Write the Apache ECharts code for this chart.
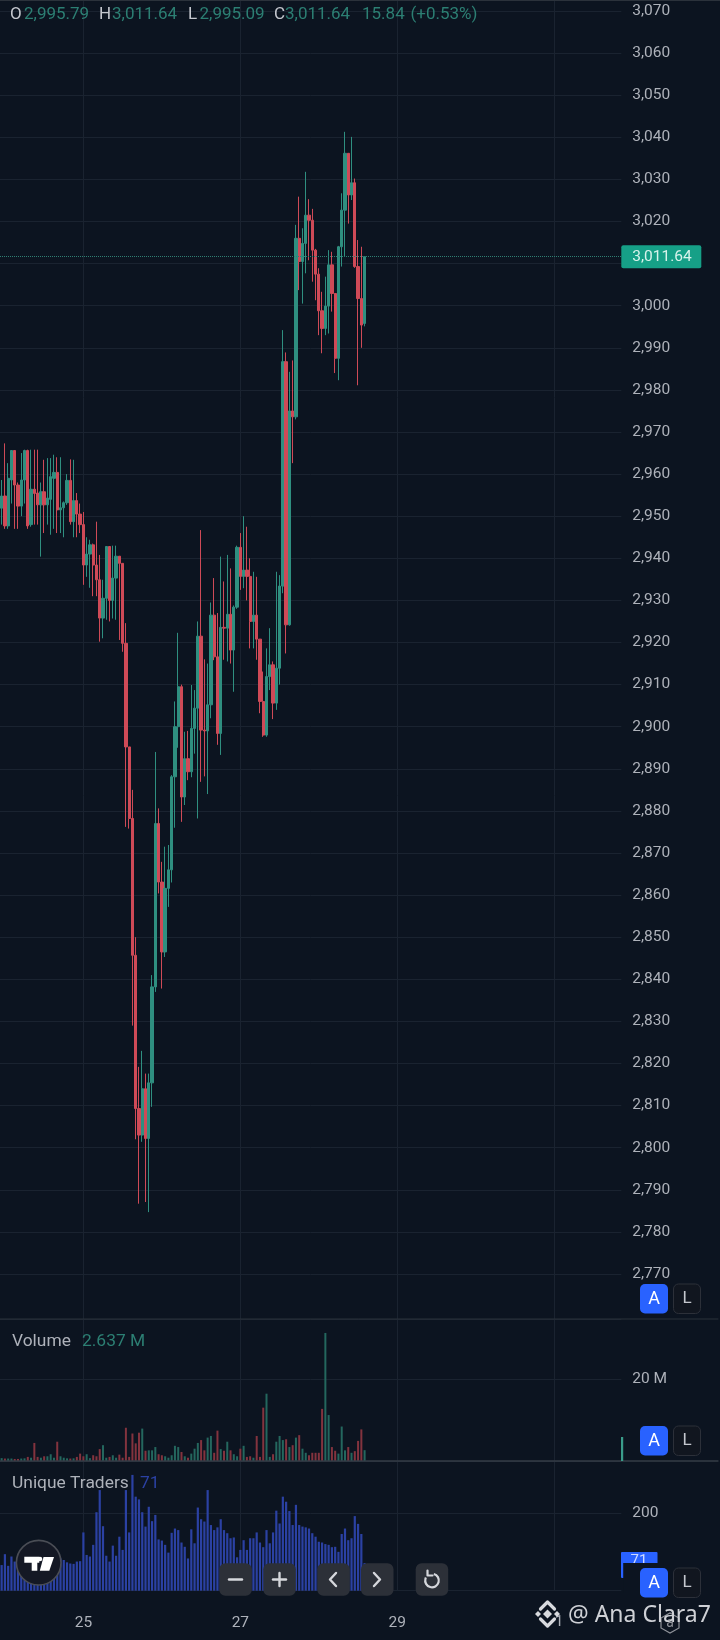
<!DOCTYPE html>
<html><head><meta charset="utf-8">
<style>html,body{margin:0;padding:0;background:#0c1420}#c{width:720px;height:1640px}</style>
<script src="https://cdn.jsdelivr.net/npm/echarts@6/dist/echarts.min.js"></script>
</head><body><div id="c"></div>
<script>
// candle values, one hour per candle
const opens=[2951.9,2954.8,2947.7,2958.6,2965.6,2957.4,2952.4,2958.6,2965.6,2948,2956.4,2955.5,2952.7,2955.8,2952.7,2954,2959,2960.4,2951.5,2952,2953.2,2958.5,2948.7,2953.7,2950.5,2948,2938.4,2941,2943.2,2938.4,2934.9,2925.8,2930.5,2942.8,2930,2935.3,2940.5,2938.8,2919.8,2895.2,2878.2,2845.7,2809.3,2803,2814,2802.2,2815.4,2838.2,2877,2863.1,2846.5,2861.6,2866,2888.1,2900,2909.5,2883.3,2892.4,2889.3,2899.6,2904.4,2921.5,2899.2,2899,2905.2,2926.5,2916.6,2898.4,2923.6,2923.4,2926.7,2918.2,2928.4,2942.6,2935.7,2937.2,2935.7,2925,2926.5,2920.8,2906,2898,2911.9,2914.7,2905.6,2913.9,2933.4,2986.7,2924.2,2975,2973.6,3016,3010.5,3014.8,3021.5,3020.3,3013.2,3007.5,2998.8,2994.6,2999.9,3009.7,3002.9,2987.5,3014,3022.7,3036.2,3026.3,3029.2,3009.3,3001.7,2995.79];
const closes=[2954.8,2947.7,2959,2965.6,2957.4,2952.4,2958.6,2965.6,2947.7,2956.4,2955.4,2952.7,2955.8,2952.7,2954.3,2959.4,2960.4,2951.5,2952,2953.2,2958.5,2948.7,2953.7,2950.5,2948,2938.4,2941,2943.2,2938.4,2934.9,2925.8,2930.5,2942.8,2930,2935.3,2940.5,2938.8,2919.8,2895.2,2878.2,2845.7,2809.3,2803,2814,2802.2,2815.4,2838.2,2877,2863.1,2846.5,2861.6,2866,2888.1,2900,2909.5,2883.3,2892.4,2889.3,2899.6,2904.4,2921.5,2899.2,2899,2905.2,2926.5,2916.6,2898.4,2923.6,2923.4,2926.7,2918.2,2928.4,2942.6,2935.7,2937.2,2935.7,2925,2926.5,2920.8,2906,2898,2911.9,2914.7,2905.6,2913.9,2933.4,2986.7,2924.2,2975,2973.6,3016,3010.5,3014.8,3021.5,3020.3,3013.2,3007.5,2998.8,2994.6,2999.9,3009.7,3002.9,2987.5,3014,3022.7,3036.2,3026.3,3029.2,3009.3,3001.7,2995.4,3011.64];
const lows=[2948,2947,2947,2953,2947,2947,2950,2953,2947,2947.5,2948,2948,2940.4,2946,2948,2945.6,2947,2946,2946,2945,2952.7,2948,2945,2945,2946,2933.7,2935.6,2933,2931,2931,2920.2,2921,2925.4,2925,2925.7,2925.4,2920.6,2917.8,2876.2,2875.8,2829,2802,2786.7,2801.4,2787.1,2784.7,2809.7,2837,2860.4,2837.8,2845.3,2857.2,2863,2876,2895,2877.4,2881.4,2887.3,2888,2893.6,2878.2,2886.9,2888.2,2884,2902,2915.8,2895.7,2893.3,2915.9,2915.5,2915,2908.3,2928,2932.5,2932.9,2930,2918.6,2918.6,2915.9,2903.2,2897.6,2897.6,2908.7,2901.8,2904,2910,2931.7,2917.4,2924,2962.6,2973,3003.7,3000.5,3007.7,3010.8,3005.7,3001.3,2993,2988.7,2993,2993.4,2998.6,2984,2982.3,3009.3,3011.6,3019.5,3025.1,3009,2981.1,2990,2995.09];
const highs=[2958.6,2967.3,2962.6,2965.6,2965.6,2958,2965,2965.8,2965.8,2965.8,2965.8,2965.8,2958,2963.4,2963.8,2963.8,2964.6,2964,2964,2953.5,2960,2963.5,2963.4,2955.5,2953,2951,2945,2944.4,2943.5,2948.7,2940.8,2934.9,2942.8,2942.8,2943,2943,2940.5,2938.8,2924.6,2895.2,2885,2850,2819.2,2823,2817.6,2817.6,2841,2894,2880.6,2867.9,2871.5,2871.9,2888.5,2906,2922.3,2910,2898.8,2899,2909.9,2908.7,2925,2946.7,2916,2915,2929.5,2935.3,2927,2940.4,2934.5,2940.8,2937.6,2928.8,2943,2946,2950,2947.5,2940,2936.8,2935.6,2920.8,2913.1,2918.6,2923.4,2915.5,2936.8,2936,2994.2,2988.9,2984.3,2987,3019.2,3025.9,3018.4,3031.8,3025.3,3023,3013.5,3008.9,3003.3,3006.9,3013.2,3012.8,3003,3014.2,3026.7,3041.3,3036.2,3040.1,3030.2,3015.6,3014,3011.64];
const volumes=[0.7,0.6,0.6,0.6,0.5,0.5,0.6,0.65,1,0.8,4.4,1,0.8,1.15,1.15,1.65,0.8,4.7,1.15,0.8,0.65,0.6,0.65,1,1.8,1.15,1.65,0.7,1.4,1.15,2.9,3.85,0.8,1,1.4,0.8,1.55,0.8,8.1,1,6.7,4.3,6.9,7.9,2.5,2.6,2.6,3.4,1.65,1.4,1.15,0.8,1.4,3.7,3.4,2.2,1.15,0.8,1.8,3,4.4,5.1,2.6,5.7,6.1,2,7.4,2.9,2.5,4.7,2.6,1.65,1.15,3,3.7,1,1.15,0.8,6.1,1,13,16.4,1,1.65,4.7,6.1,5.1,5.3,3.4,3.85,5.7,6.3,3,2,1.4,2,2,2,12.7,31.2,11.2,3.4,2.5,1.8,8.4,2.6,3.4,2,2.4,4.9,7.7,2.637];
const traders=[66,94,64,88,75,70,79,70,62,70,96,75,70,66,79,70,75,62,83,79,73,70,69,75,76,150,92,88,118,202,259,166,90,75,116,90,139,105,259,150,298,242,235,202,165,216,179,195,132,129,118,98,149,160,156,124,113,83,158,122,214,184,178,259,169,156,163,184,156,148,135,137,86,105,130,105,135,135,150,124,112,156,122,150,206,173,242,229,205,169,221,169,165,163,160,148,139,126,124,120,118,112,113,100,146,160,130,135,192,172,146,71];
const lastPrice=3011.64;
const slotCount=190;                 // hourly slots across the plot width
const dateTicks={25:'25',73:'27',121:'29'};
const dateLineEvery=48, dateLineStart=25;
const priceMin=2770, priceMax=3070, priceStep=10;
const volumeMax=34.6, volumeStep=20;
const tradersMax=333.8, tradersStep=200;

const slots=Array.from({length:slotCount},(_,i)=>String(i));
const candles=opens.map((o,i)=>[o,closes[i],lows[i],highs[i]]);
const UP='#2f8f80',DOWN='#cf4a57',VUP='#24675e',VDOWN='#83333e',BLUE='#2b41a3',BG='#0c1420',GRID='#1a2330',TXT='#aeb2ba',SEP='#2b323b';
const FONT='Roboto';
const isUp=i=>closes[i]>=opens[i];
const fmt=v=>v===3010?'':Number(v).toLocaleString('en-US');

const axisText={color:TXT,fontFamily:FONT,fontSize:15.5,margin:11};
const noX=g=>({type:'category',gridIndex:g,data:slots,boundaryGap:true,axisLine:{show:false},axisTick:{show:false},axisLabel:{show:false},splitLine:{show:false}});
const yA=(g,min,max,step,f,pad)=>({type:'value',gridIndex:g,position:'right',min,max,interval:step,scale:false,axisLine:{show:false},axisTick:{show:false},axisLabel:{...axisText,padding:pad||0,formatter:f,showMinLabel:true,showMaxLabel:true},splitLine:{lineStyle:{color:GRID,width:1}}});

// overlay pieces
const T=(x,y,text,color,size,extra)=>({type:'text',z:100,style:{x,y,text,fill:color,font:(extra&&extra.w||'400')+' '+size+'px '+(extra&&extra.f||FONT),textVerticalAlign:'middle',verticalAlign:'middle',textAlign:extra&&extra.a||'left',align:extra&&extra.a||'left'}});
const R=(x,y,w,h,fill,r,stroke,z)=>({type:'rect',z:z||100,shape:{x,y,width:w,height:h,r:r||0},style:{fill,stroke:stroke||null,lineWidth:stroke?1:0}});
const L=(pts,color,w,z)=>({type:'polyline',z:z||101,shape:{points:pts},style:{stroke:color,lineWidth:w,fill:null,lineCap:'round',lineJoin:'round'}});
const P=(pts,fill)=>({type:'polygon',z:102,shape:{points:pts},style:{fill}});
const G='#2c7f73',W='#c4c7ce';
const HY=15;
const overlay=[
 // header
 T(10,HY,'O',W,17),T(24,HY,'2,995.79',G,17),
 T(99,HY,'H',W,17),T(112,HY,'3,011.64',G,17),
 T(188,HY,'L',W,17),T(199.5,HY,'2,995.09',G,17),
 T(274,HY,'C',W,17),T(285,HY,'3,011.64',G,17),
 T(362,HY,'15.84',G,17),T(410.5,HY,'(+0.53%)',G,17),
 // pane titles
 T(12,1342,'Volume',TXT,17.4),T(82,1342,'2.637 M',G,17.4),
 T(12,1484,'Unique Traders',TXT,17.4),T(140,1484,'71',BLUE,17.4),
 // separators
 L([[0,0.5],[720,0.5]],SEP,1,5),L([[0,1319],[718,1319]],SEP,1,5),L([[0,1461],[718,1461]],'#353c45',1.4,5),
 // pane value stubs
 R(621,1437,2.2,24,'#3a9c8a'),
 R(621,1552,36.5,26,'#2962ff',1),
 T(639,1561,'71','#cdd9ff',15,{a:'center'}),
 R(623.2,1563,40,30,BG),
 // auto / log buttons
 ...[1284,1426,1568].flatMap(y=>[
   R(640,y,28,29.5,'#2962ff',5,null,103),
   R(673.5,y,27,29.5,'#11161f',5,'#2c3039',103),
   Object.assign(T(654,y+15,'A','#ffffff',18,{a:'center'}),{z:104}),
   Object.assign(T(687,y+15,'L','#c4c7ce',17,{a:'center'}),{z:104})]),
 // tradingview badge
 {type:'circle',z:100,shape:{cx:38.7,cy:1562.7,r:22.3},style:{fill:'#141824',stroke:'#4a4d55',lineWidth:1.6}},
 P([[24.3,1556.7],[39.3,1556.7],[39.3,1562.7],[37.3,1562.7],[37.3,1570.7],[31.7,1570.7],[31.7,1562.7],[24.3,1562.7]],'#fff'),
 {type:'circle',z:102,shape:{cx:40,cy:1559,r:2.3},style:{fill:'#fff'}},
 P([[43.5,1557],[54,1557],[49.3,1570.7],[39.8,1570.7]],'#fff'),
 // navigation buttons
 ...[219.3,263.3,317.3,361,415.7].map(x=>R(x,1563.3,32.5,32.5,'#2c3038',6)),
 L([[229,1579.5],[242,1579.5]],'#d5d7dc',2.4),
 L([[273,1579.5],[286,1579.5]],'#d5d7dc',2.4),L([[279.5,1573],[279.5,1586]],'#d5d7dc',2.4),
 L([[336,1573],[330,1579.5],[336,1586]],'#d5d7dc',2.4),
 L([[374,1573],[380,1579.5],[374,1586]],'#d5d7dc',2.4),
 {type:'arc',z:101,shape:{cx:432,cy:1580.5,r:6.8,startAngle:-1.3,endAngle:3.6,clockwise:true},style:{stroke:'#d5d7dc',lineWidth:2.2,fill:null}},
 L([[427.5,1570.5],[427.5,1575.5],[432.5,1575.5]],'#d5d7dc',2.2),
 // watermark
 T(559,1622,'1',TXT,15.5,{a:'center'}),
 {type:'polygon',z:100,shape:{points:[[670,1613],[679,1618],[679,1628],[670,1633],[661,1628],[661,1618]]},style:{fill:null,stroke:'#8f9299',lineWidth:1.2}},
 T(670,1623,'a','#8f9299',14,{a:'center'}),
 T(568,1615,'@ Ana Clara7','#cfd1d6',23,{f:'"Noto Sans"'}),
 L([[540.5,1609],[547.5,1602],[554.5,1609]],'#d8dade',3.2),
 L([[540.5,1619],[547.5,1626],[554.5,1619]],'#d8dade',3.2),
 P([[547.5,1609.5],[552,1614],[547.5,1618.5],[543,1614]],'#d8dade'),
 P([[538,1611],[541,1614],[538,1617],[535,1614]],'#d8dade'),
 P([[557,1611],[560,1614],[557,1617],[554,1614]],'#d8dade')
];

const chart=echarts.init(document.getElementById('c'),null,{renderer:'canvas',width:720,height:1640});
chart.setOption({
 animation:false,
 backgroundColor:BG,
 grid:[
  {left:1.635,top:0,width:618.03,height:1590.7},   // shared time axis
  {left:0,top:11,width:621.3,height:1263},         // price
  {left:0,top:1319,width:621.3,height:142},        // volume
  {left:0,top:1461,width:621.3,height:129.7}       // unique traders
 ],
 xAxis:[
  {type:'category',gridIndex:0,data:slots,boundaryGap:false,axisLine:{show:false},axisTick:{show:false},
   axisLabel:{color:TXT,fontFamily:FONT,fontSize:15.5,margin:24,hideOverlap:false,
     interval:(i)=>dateTicks[i]!==undefined,formatter:(v)=>dateTicks[v]||''},
   splitLine:{show:true,interval:(i)=>(i-dateLineStart)%dateLineEvery===0,lineStyle:{color:GRID,width:1}}},
  noX(1),noX(2),noX(3)
 ],
 yAxis:[
  {type:'value',gridIndex:0,show:false,min:0,max:1,splitLine:{show:false}},
  yA(1,priceMin,priceMax,priceStep,fmt),
  yA(2,0,volumeMax,volumeStep,v=>v===volumeStep?'20 M':'',[6,0,0,0]),
  yA(3,0,tradersMax,tradersStep,v=>v===tradersStep?'200':'',[2,0,0,0])
 ],
 series:[
  {type:'candlestick',xAxisIndex:1,yAxisIndex:1,data:candles,barWidth:2.8,z:3,
   itemStyle:{color:UP,color0:DOWN,borderColor:UP,borderColor0:DOWN,borderWidth:1},
   markLine:{silent:true,symbol:'none',animation:false,
     data:[{yAxis:lastPrice}],
     lineStyle:{color:'#2f7f73',type:'dotted',width:1},
     label:{show:true,position:'end',distance:0,formatter:()=>'3,011.64',color:'#d8f3ec',fontFamily:FONT,fontSize:15.5,
       backgroundColor:'#16a087',borderRadius:2,padding:[4,9,3,11],width:60,opacity:1}}},
  {type:'bar',xAxisIndex:2,yAxisIndex:2,barWidth:2,z:3,
   data:volumes.map((v,i)=>({value:v,itemStyle:{color:isUp(i)?VUP:VDOWN}}))},
  {type:'bar',xAxisIndex:3,yAxisIndex:3,barWidth:2.2,z:3,data:traders,itemStyle:{color:BLUE}}
 ],
 graphic:{elements:overlay}
});
</script></body></html>
